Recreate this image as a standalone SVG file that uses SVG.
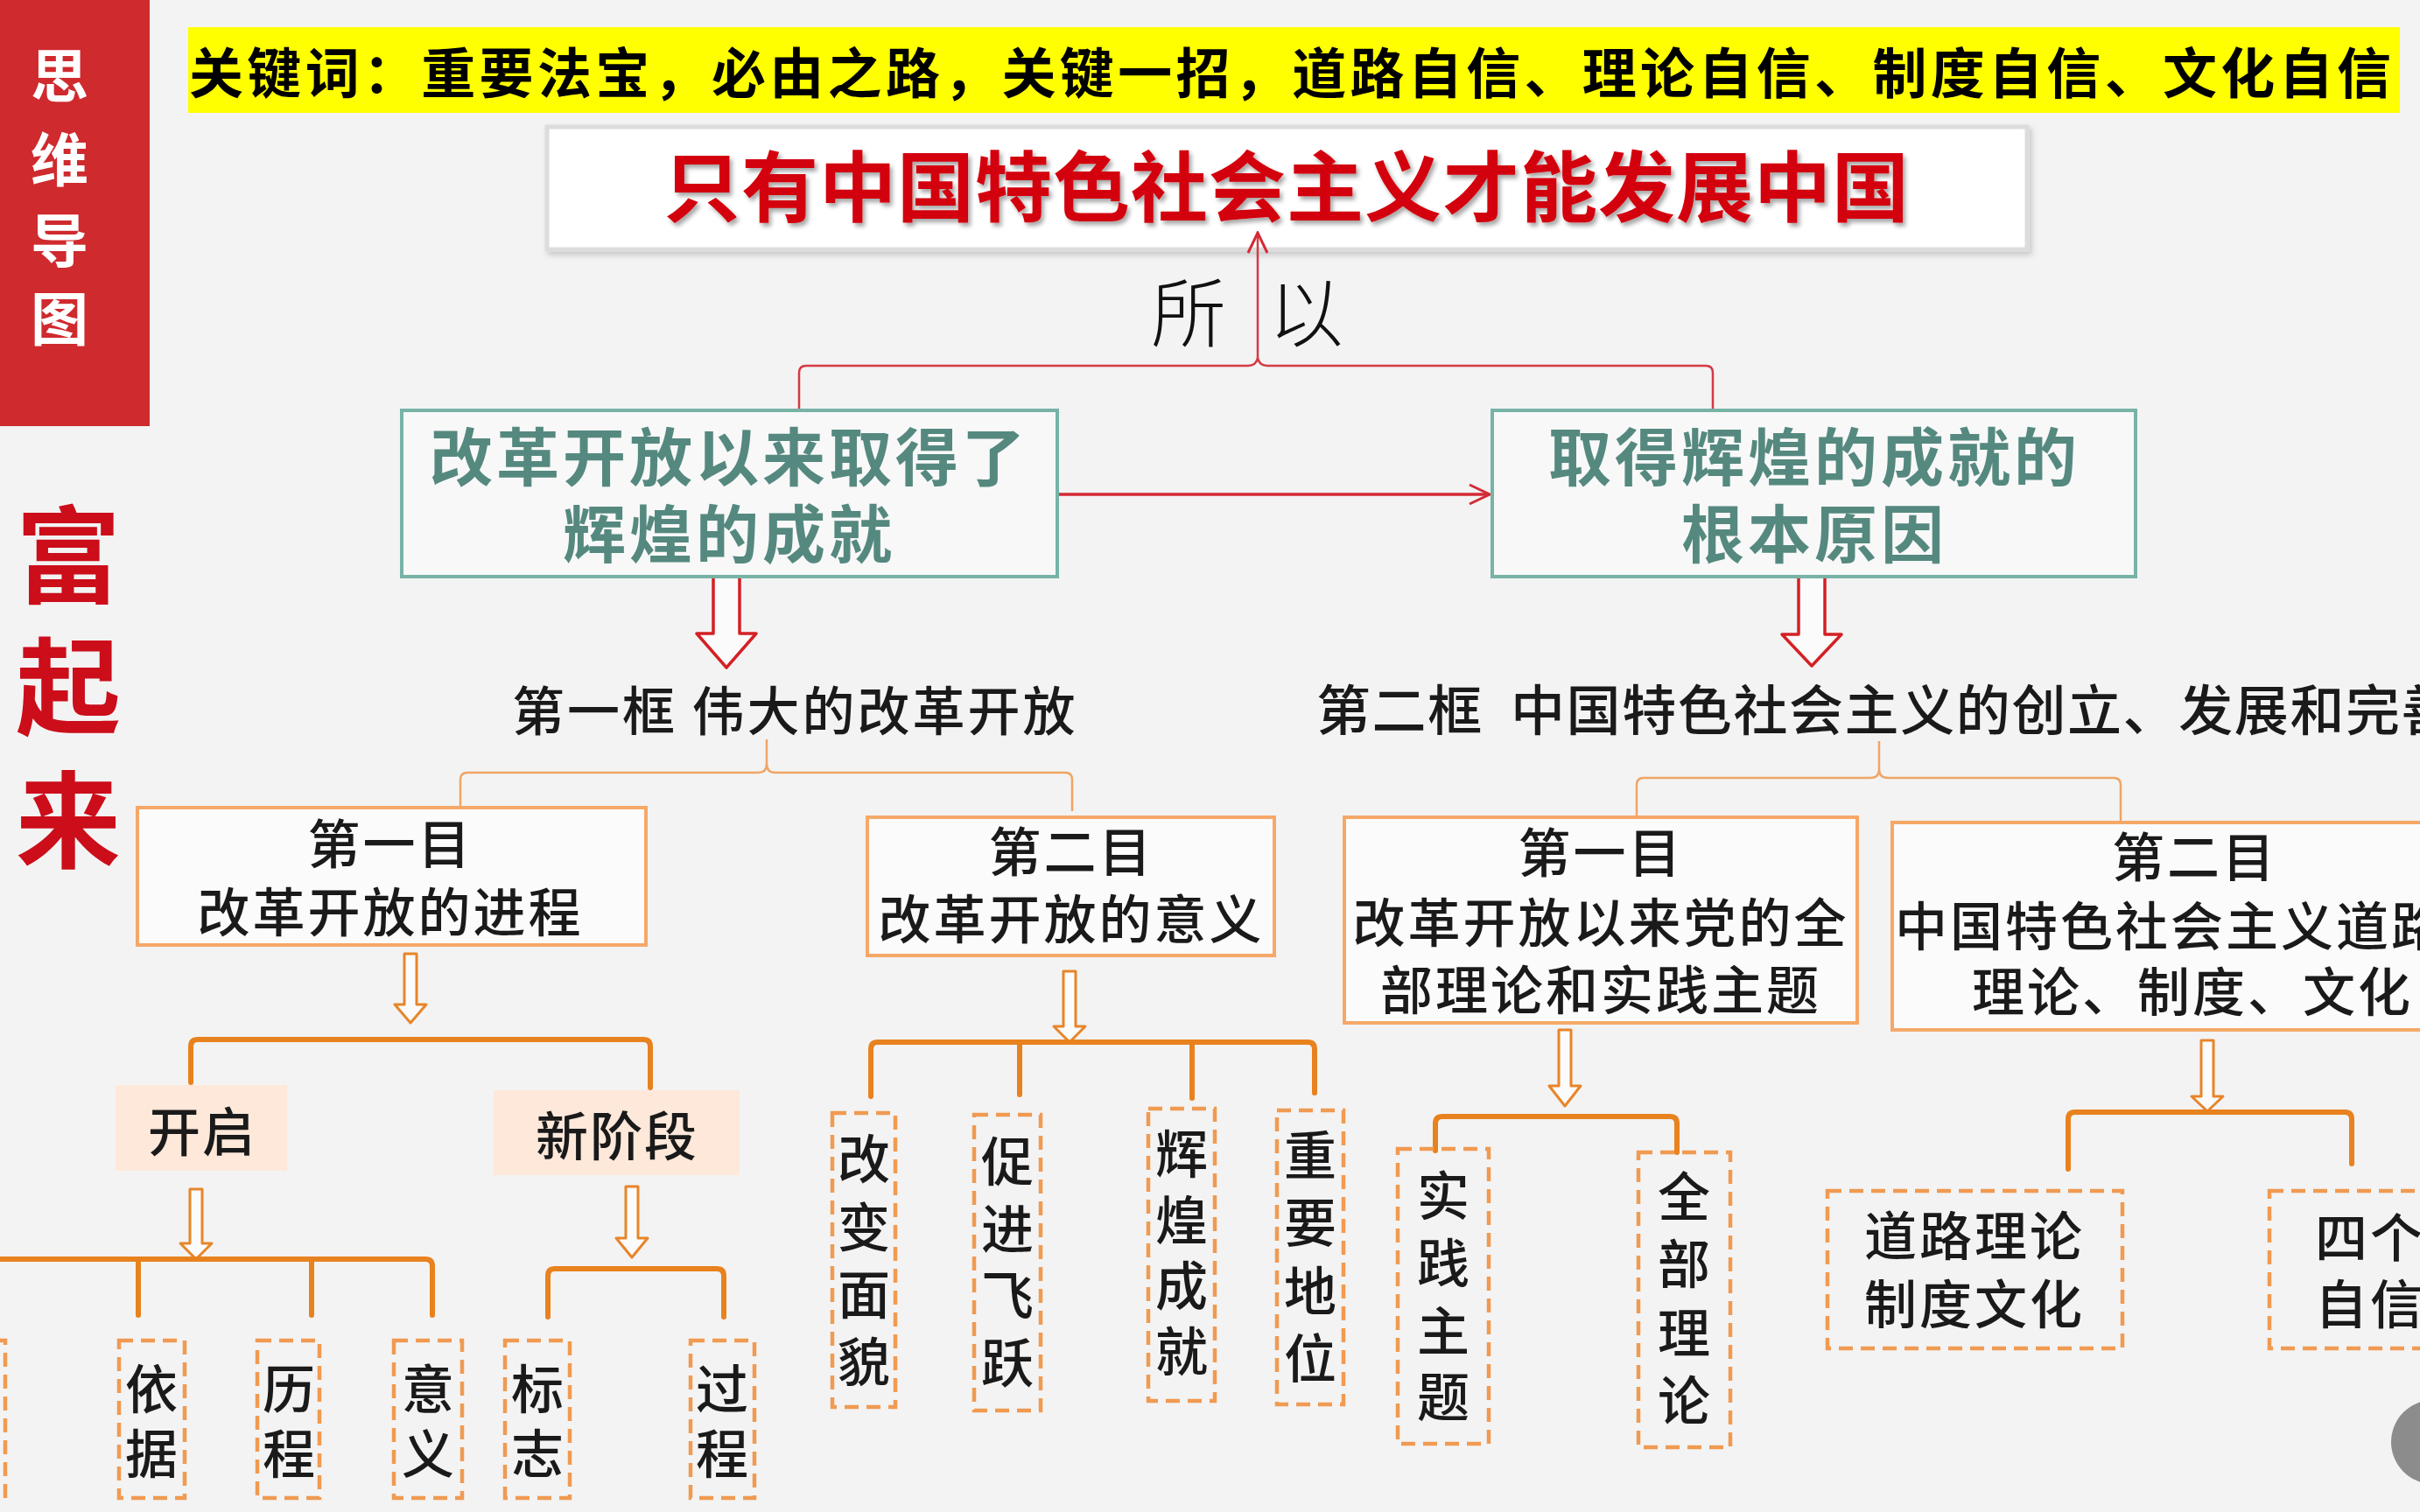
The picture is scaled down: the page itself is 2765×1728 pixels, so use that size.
<svg xmlns="http://www.w3.org/2000/svg" width="2765" height="1728" viewBox="0 0 2765 1728">
<defs>
<style>
.t{font-family:"Noto Sans CJK SC","Noto Sans",sans-serif;}
.blk{fill:#1a1a1a;font-weight:500;}
.teal{fill:#55897f;font-weight:700;font-size:72px;letter-spacing:4px;}
.sub{font-size:60px;letter-spacing:3px;text-anchor:middle;}
.vch{font-size:60px;text-anchor:middle;}
.box{fill:#fbfbfb;stroke:#f5a868;stroke-width:4;}
.tbox{fill:#f8f8f8;stroke:#77b3a6;stroke-width:4;}
.dash{fill:none;stroke:#f09a52;stroke-width:4.5;stroke-dasharray:16 9;}
.thin{fill:none;stroke:#f0a565;stroke-width:2.5;}
.thick{fill:none;stroke:#e8821e;stroke-width:6;stroke-linecap:round;}
.oarr{fill:#fbfbfb;stroke:#e8852a;stroke-width:3;stroke-linejoin:round;}
.rarr{fill:#fbfbfb;stroke:#d42025;stroke-width:3.5;stroke-linejoin:round;}
.rline{fill:none;stroke:#d43a45;stroke-width:2.5;}
</style>
<marker id="arrR" viewBox="0 0 28 28" refX="26" refY="14" markerWidth="28" markerHeight="28" markerUnits="userSpaceOnUse" orient="auto">
<path d="M3 3 L26 14 L3 25" fill="none" stroke="#d42a35" stroke-width="3"/>
</marker>
<filter id="sh" x="-5%" y="-20%" width="110%" height="150%">
<feDropShadow dx="3" dy="4" stdDeviation="2.5" flood-color="#000" flood-opacity="0.35"/>
</filter>
<filter id="bsh" x="-5%" y="-20%" width="110%" height="150%">
<feDropShadow dx="3" dy="4" stdDeviation="3" flood-color="#000" flood-opacity="0.18"/>
</filter>
</defs>
<rect x="0" y="0" width="2765" height="1728" fill="#f3f3f3"/>

<g id="sidebar">
<rect x="0" y="0" width="171" height="487" fill="#cf2a2e"/>
<text class="t" font-size="66" font-weight="700" fill="#ffffff" text-anchor="middle" dominant-baseline="central"><tspan x="68" y="82">思</tspan><tspan x="68" y="178">维</tspan><tspan x="68" y="271">导</tspan><tspan x="68" y="360">图</tspan></text>
</g>

<g id="side-title">
<text class="t" font-size="120" font-weight="700" fill="#cc0d1a" text-anchor="middle" dominant-baseline="central"><tspan x="78" y="628">富</tspan><tspan x="78" y="778">起</tspan><tspan x="78" y="931">来</tspan></text>
</g>

<g id="keywords">
<rect x="215" y="31" width="2527" height="98" fill="#ffff00"/>
<text class="t" x="216" y="80" font-size="62" font-weight="700" fill="#000" dominant-baseline="central" textLength="2516" lengthAdjust="spacing">关键词：重要法宝，必由之路，关键一招，道路自信、理论自信、制度自信、文化自信</text>
</g>

<g id="title">
<rect x="625" y="145" width="1691" height="140" fill="#ffffff" stroke="#dcdcdc" stroke-width="5" filter="url(#bsh)"/>
<text class="t" x="1470" y="207" font-size="88" font-weight="700" fill="#d3000f" text-anchor="middle" dominant-baseline="central" letter-spacing="1" filter="url(#sh)">只有中国特色社会主义才能发展中国</text>
</g>

<g id="connectors">
<path class="rline" d="M913 469 V426 Q913 418 921 418 H1426 Q1435 418 1437 409 Q1439 418 1448 418 H1949 Q1957 418 1957 426 V469"/>
<line class="rline" x1="1437" y1="409" x2="1437" y2="266" marker-end="url(#arrR)"/>
<line x1="1210" y1="565" x2="1702" y2="565" stroke="#d42a35" stroke-width="3.5" marker-end="url(#arrR)"/>
<polygon class="rarr" points="815,659 845,659 845,724 864,724 830,763 796,724 815,724"/>
<polygon class="rarr" points="2055,657 2085,657 2085,725 2104,725 2070,761 2036,725 2055,725"/>
<path class="thin" d="M526 922 V891 Q526 883 534 883 H866 Q876 883 876 873 V845 M876 873 Q876 883 886 883 H1217 Q1225 883 1225 891 V927"/>
<path class="thin" d="M1870 933 V897 Q1870 889 1878 889 H2137 Q2147 889 2147 879 V847 M2147 879 Q2147 889 2157 889 H2415 Q2423 889 2423 897 V940"/>
<polygon class="oarr" points="462,1090 476,1090 476,1148 487,1148 469,1169 451,1148 462,1148"/>
<path class="thick" d="M218 1237 V1196 Q218 1188 226 1188 H735 Q743 1188 743 1196 V1243"/>
<polygon class="oarr" points="217,1359 231,1359 231,1421 242,1421 224,1439 206,1421 217,1421"/>
<path class="thick" d="M-10 1439 H486 Q494 1439 494 1447 V1503 M158 1439 V1503 M356 1439 V1503"/>
<polygon class="oarr" points="715,1356 729,1356 729,1415 740,1415 722,1437 704,1415 715,1415"/>
<path class="thick" d="M626 1505 V1458 Q626 1450 634 1450 H819 Q827 1450 827 1458 V1505"/>
<polygon class="oarr" points="1215,1110 1229,1110 1229,1173 1240,1173 1222,1191 1204,1173 1215,1173"/>
<path class="thick" d="M995 1253 V1199 Q995 1191 1003 1191 H1494 Q1502 1191 1502 1199 V1249 M1165 1191 V1251 M1362 1191 V1255"/>
<polygon class="oarr" points="1781,1177 1795,1177 1795,1241 1806,1241 1788,1264 1770,1241 1781,1241"/>
<path class="thick" d="M1640 1315 V1284 Q1640 1276 1648 1276 H1908 Q1916 1276 1916 1284 V1317"/>
<polygon class="oarr" points="2515,1189 2529,1189 2529,1253 2540,1253 2522,1270 2504,1253 2515,1253"/>
<path class="thick" d="M2363 1336 V1279 Q2363 1271 2371 1271 H2679 Q2687 1271 2687 1279 V1330"/>
</g>

<g id="suoyi">
<text class="t" font-size="86" font-weight="300" fill="#111" text-anchor="middle" dominant-baseline="central"><tspan x="1358" y="352">所</tspan><tspan x="1492" y="352">以</tspan></text>
</g>

<g id="node-achievement">
<rect class="tbox" x="459" y="469" width="749" height="190"/>
<text class="t teal" text-anchor="middle" dominant-baseline="central"><tspan x="833" y="517">改革开放以来取得了</tspan><tspan x="833" y="605">辉煌的成就</tspan></text>
</g>

<g id="node-reason">
<rect class="tbox" x="1705" y="469" width="735" height="190"/>
<text class="t teal" text-anchor="middle" dominant-baseline="central"><tspan x="2073" y="517">取得辉煌的成就的</tspan><tspan x="2073" y="605">根本原因</tspan></text>
</g>

<g id="node-frame1">
<text class="t blk" x="585" y="808" font-size="60" letter-spacing="3" dominant-baseline="central">第一框 伟大的改革开放</text>
</g>

<g id="node-frame2">
<text class="t blk" y="808" font-size="62" letter-spacing="1.6" dominant-baseline="central"><tspan x="1504">第二框</tspan><tspan x="1726">中国特色社会主义的创立、发展和完善</tspan></text>
</g>

<g id="node-item1">
<rect class="box" x="157" y="923" width="581" height="157"/>
<text class="t blk sub" dominant-baseline="central"><tspan x="446" y="960">第一目</tspan><tspan x="446" y="1038">改革开放的进程</tspan></text>
</g>

<g id="node-item2">
<rect class="box" x="991" y="934" width="465" height="158"/>
<text class="t blk sub" dominant-baseline="central"><tspan x="1224" y="969">第二目</tspan><tspan x="1224" y="1046">改革开放的意义</tspan></text>
</g>

<g id="node-item3">
<rect class="box" x="1536" y="934" width="586" height="235"/>
<text class="t blk sub" dominant-baseline="central"><tspan x="1829" y="970">第一目</tspan><tspan x="1829" y="1050">改革开放以来党的全</tspan><tspan x="1829" y="1127">部理论和实践主题</tspan></text>
</g>

<g id="node-item4">
<rect class="box" x="2162" y="940" width="690" height="237"/>
<text class="t blk" font-size="60" letter-spacing="3" dominant-baseline="central"><tspan x="2413" y="975">第二目</tspan><tspan x="2165" y="1054">中国特色社会主义道路</tspan><tspan x="2253" y="1129">理论、制度、文化</tspan></text>
</g>

<g id="node-kaiqi">
<rect x="132" y="1240" width="196" height="98" fill="#fde8da"/>
<text class="t blk" x="231" y="1289" font-size="60" letter-spacing="2" text-anchor="middle" dominant-baseline="central">开启</text>
</g>

<g id="node-xinjieduan">
<rect x="564" y="1246" width="281" height="97" fill="#fde8da"/>
<text class="t blk" x="705" y="1294" font-size="60" letter-spacing="2" text-anchor="middle" dominant-baseline="central">新阶段</text>
</g>

<g id="node-left-cut">
<rect class="dash" x="-80" y="1532" width="86" height="180"/>
</g>

<g id="node-yiju">
<rect class="dash" x="136" y="1532" width="75" height="180"/>
<text class="t blk vch" dominant-baseline="central"><tspan x="173" y="1583">依</tspan><tspan x="173" y="1657">据</tspan></text>
</g>
<g id="node-licheng">
<rect class="dash" x="294" y="1532" width="71" height="180"/>
<text class="t blk vch" dominant-baseline="central"><tspan x="330" y="1583">历</tspan><tspan x="330" y="1657">程</tspan></text>
</g>
<g id="node-yiyi">
<rect class="dash" x="450" y="1532" width="78" height="180"/>
<text class="t blk vch" dominant-baseline="central"><tspan x="489" y="1583">意</tspan><tspan x="489" y="1657">义</tspan></text>
</g>
<g id="node-biaozhi">
<rect class="dash" x="577" y="1532" width="74" height="180"/>
<text class="t blk vch" dominant-baseline="central"><tspan x="614" y="1583">标</tspan><tspan x="614" y="1657">志</tspan></text>
</g>
<g id="node-guocheng">
<rect class="dash" x="789" y="1532" width="73" height="180"/>
<text class="t blk vch" dominant-baseline="central"><tspan x="825" y="1583">过</tspan><tspan x="825" y="1657">程</tspan></text>
</g>

<g id="node-gaibian">
<rect class="dash" x="951" y="1272" width="72" height="336"/>
<text class="t blk vch" dominant-baseline="central"><tspan x="987" y="1320">改</tspan><tspan x="987" y="1398">变</tspan><tspan x="987" y="1475">面</tspan><tspan x="987" y="1552">貌</tspan></text>
</g>
<g id="node-cujin">
<rect class="dash" x="1113" y="1274" width="76" height="338"/>
<text class="t blk vch" dominant-baseline="central"><tspan x="1151" y="1323">促</tspan><tspan x="1151" y="1400">进</tspan><tspan x="1151" y="1476">飞</tspan><tspan x="1151" y="1553">跃</tspan></text>
</g>
<g id="node-huihuang">
<rect class="dash" x="1312" y="1267" width="76" height="334"/>
<text class="t blk vch" dominant-baseline="central"><tspan x="1350" y="1314">辉</tspan><tspan x="1350" y="1390">煌</tspan><tspan x="1350" y="1465">成</tspan><tspan x="1350" y="1540">就</tspan></text>
</g>
<g id="node-zhongyao">
<rect class="dash" x="1459" y="1269" width="76" height="336"/>
<text class="t blk vch" dominant-baseline="central"><tspan x="1497" y="1316">重</tspan><tspan x="1497" y="1393">要</tspan><tspan x="1497" y="1471">地</tspan><tspan x="1497" y="1548">位</tspan></text>
</g>

<g id="node-shijian">
<rect class="dash" x="1597" y="1313" width="104" height="337"/>
<text class="t blk vch" dominant-baseline="central"><tspan x="1649" y="1362">实</tspan><tspan x="1649" y="1439">践</tspan><tspan x="1649" y="1517">主</tspan><tspan x="1649" y="1592">题</tspan></text>
</g>
<g id="node-quanbu">
<rect class="dash" x="1872" y="1317" width="105" height="337"/>
<text class="t blk vch" dominant-baseline="central"><tspan x="1924" y="1363">全</tspan><tspan x="1924" y="1440">部</tspan><tspan x="1924" y="1519">理</tspan><tspan x="1924" y="1596">论</tspan></text>
</g>

<g id="node-daolu">
<rect class="dash" x="2088" y="1361" width="337" height="180"/>
<text class="t blk sub" dominant-baseline="central"><tspan x="2256" y="1408">道路理论</tspan><tspan x="2256" y="1486">制度文化</tspan></text>
</g>
<g id="node-sige">
<rect class="dash" x="2593" y="1361" width="337" height="180"/>
<text class="t blk" font-size="60" letter-spacing="3" dominant-baseline="central"><tspan x="2645" y="1410">四个</tspan><tspan x="2645" y="1486">自信</tspan></text>
</g>

<circle cx="2780" cy="1648" r="48" fill="#8c8c8c"/>
</svg>
